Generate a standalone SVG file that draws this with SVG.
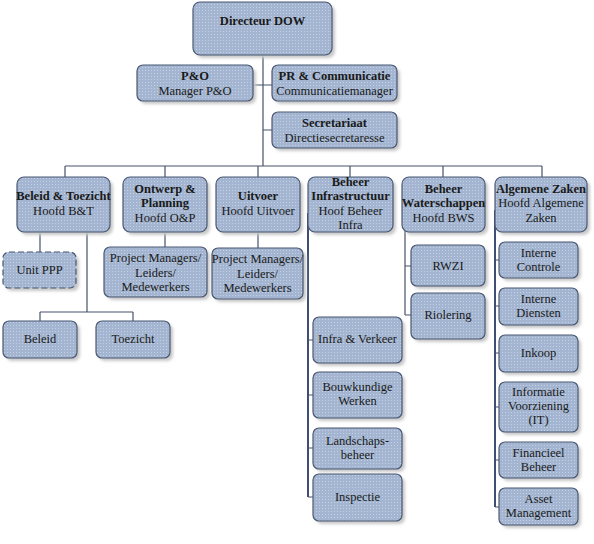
<svg xmlns="http://www.w3.org/2000/svg" width="594" height="544" viewBox="0 0 594 544">
<defs>
<pattern id="dots" width="3" height="3" patternUnits="userSpaceOnUse">
<rect width="3" height="3" fill="#a3b5d0"/>
<rect x="1" y="1" width="1" height="1" fill="#c4d1e4"/>
</pattern>
<filter id="sh" x="-10%" y="-10%" width="130%" height="140%">
<feGaussianBlur stdDeviation="1.5"/>
</filter>
</defs>
<style>
.box{fill:url(#dots);stroke:#4b5873;stroke-width:1.2}
.dash{fill:url(#dots);stroke:#4b5873;stroke-width:1.2;stroke-dasharray:6 3}
.shd{fill:#c8c8c8;filter:url(#sh)}
.c{fill:none;stroke:#46536b;stroke-width:1.2}
.cb{fill:none;stroke:#3f4f73;stroke-width:2}
text{font-family:"Liberation Serif","Times New Roman",serif;font-size:12.5px;fill:#1a1a1a;text-anchor:middle}
.b{font-weight:bold}
</style>
<rect width="594" height="544" fill="#ffffff"/>
<g id="connectors">
<path class="c" d="M263,55 V166 M253,85 H272 M263,130 H272"/>
<path class="c" d="M65,166 H542 M65,166 V177 M165,166 V177 M258,166 V177 M350,166 V177 M443,166 V177 M542,166 V177"/>
<path class="c" d="M40,232 V252 M87,232 V312 M40,312 H133 M40,312 V321 M133,312 V321"/>
<path class="c" d="M165,232 V247 M258,232 V248"/>
<path class="cb" d="M308,213 V497"/>
<path class="c" d="M308,340 H313 M308,395 H313 M308,448 H313 M308,497 H313"/>
<path class="c" d="M405,213 V315 M405,266 H411 M405,315 H411"/>
<path class="cb" d="M495,210 V507"/>
<path class="c" d="M495,260 H499 M495,306 H499 M495,353 H499 M495,407 H499 M495,460 H499 M495,507 H499"/>
</g>
<g id="n-directeur"><rect class="shd" x="196" y="5" width="139" height="53" rx="7"/><rect class="box" x="193" y="2" width="139" height="53" rx="7"/><text class="b" x="262.5" y="25">Directeur DOW</text></g>
<g id="n-po"><rect class="shd" x="140" y="68" width="116" height="36" rx="6"/><rect class="box" x="137" y="65" width="116" height="36" rx="6"/><text class="b" x="195" y="80">P&amp;O</text><text x="195" y="95">Manager P&amp;O</text></g>
<g id="n-pr"><rect class="shd" x="275" y="68" width="125" height="36" rx="6"/><rect class="box" x="272" y="65" width="125" height="36" rx="6"/><text class="b" x="334.5" y="80">PR &amp; Communicatie</text><text x="334.5" y="95">Communicatiemanager</text></g>
<g id="n-secretariaat"><rect class="shd" x="275" y="115" width="125" height="36" rx="6"/><rect class="box" x="272" y="112" width="125" height="36" rx="6"/><text class="b" x="334.5" y="127">Secretariaat</text><text x="334.5" y="142">Directiesecretaresse</text></g>
<g id="n-bt"><rect class="shd" x="20" y="180" width="93" height="55" rx="7"/><rect class="box" x="17" y="177" width="93" height="55" rx="7"/><text class="b" x="63.5" y="200">Beleid &amp; Toezicht</text><text x="63.5" y="215">Hoofd B&amp;T</text></g>
<g id="n-op"><rect class="shd" x="126" y="180" width="84" height="55" rx="7"/><rect class="box" x="123" y="177" width="84" height="55" rx="7"/><text class="b" x="165" y="193">Ontwerp &amp;</text><text class="b" x="165" y="207">Planning</text><text x="165" y="222">Hoofd O&amp;P</text></g>
<g id="n-uitvoer"><rect class="shd" x="219" y="180" width="84" height="55" rx="7"/><rect class="box" x="216" y="177" width="84" height="55" rx="7"/><text class="b" x="258" y="200">Uitvoer</text><text x="258" y="215">Hoofd Uitvoer</text></g>
<g id="n-bi"><rect class="shd" x="311" y="180" width="85" height="55" rx="7"/><rect class="box" x="308" y="177" width="85" height="55" rx="7"/><text class="b" x="350.5" y="186">Beheer</text><text class="b" x="350.5" y="200">Infrastructuur</text><text x="350.5" y="215">Hoof Beheer</text><text x="350.5" y="229">Infra</text></g>
<g id="n-bw"><rect class="shd" x="405" y="180" width="83" height="55" rx="7"/><rect class="box" x="402" y="177" width="83" height="55" rx="7"/><text class="b" x="443.5" y="193">Beheer</text><text class="b" x="443.5" y="207">Waterschappen</text><text x="443.5" y="222">Hoofd BWS</text></g>
<g id="n-az"><rect class="shd" x="498" y="180" width="92" height="55" rx="7"/><rect class="box" x="495" y="177" width="92" height="55" rx="7"/><text class="b" x="541" y="193">Algemene Zaken</text><text x="541" y="207">Hoofd Algemene</text><text x="541" y="222">Zaken</text></g>
<g id="n-ppp"><rect class="shd" x="6" y="255" width="73" height="36" rx="6"/><rect class="dash" x="3" y="252" width="73" height="36" rx="6"/><text x="39.5" y="274">Unit PPP</text></g>
<g id="n-beleid"><rect class="shd" x="6" y="324" width="74" height="37" rx="6"/><rect class="box" x="3" y="321" width="74" height="37" rx="6"/><text x="40" y="343">Beleid</text></g>
<g id="n-toezicht"><rect class="shd" x="99" y="324" width="74" height="37" rx="6"/><rect class="box" x="96" y="321" width="74" height="37" rx="6"/><text x="133" y="343">Toezicht</text></g>
<g id="n-pm1"><rect class="shd" x="107" y="250" width="103" height="50" rx="6"/><rect class="box" x="104" y="247" width="103" height="50" rx="6"/><text x="155.5" y="262">Project Managers/</text><text x="155.5" y="277">Leiders/</text><text x="155.5" y="291">Medewerkers</text></g>
<g id="n-pm2"><rect class="shd" x="215" y="251" width="91" height="51" rx="6"/><rect class="box" x="212" y="248" width="91" height="51" rx="6"/><text x="257.5" y="263">Project Managers/</text><text x="257.5" y="278">Leiders/</text><text x="257.5" y="292">Medewerkers</text></g>
<g id="n-infra"><rect class="shd" x="316" y="320" width="89" height="46" rx="6"/><rect class="box" x="313" y="317" width="89" height="46" rx="6"/><text x="357.5" y="343">Infra &amp; Verkeer</text></g>
<g id="n-bouw"><rect class="shd" x="316" y="375" width="89" height="46" rx="6"/><rect class="box" x="313" y="372" width="89" height="46" rx="6"/><text x="357.5" y="391">Bouwkundige</text><text x="357.5" y="405">Werken</text></g>
<g id="n-land"><rect class="shd" x="316" y="431" width="89" height="41" rx="6"/><rect class="box" x="313" y="428" width="89" height="41" rx="6"/><text x="357.5" y="445">Landschaps-</text><text x="357.5" y="459">beheer</text></g>
<g id="n-insp"><rect class="shd" x="316" y="477" width="89" height="47" rx="6"/><rect class="box" x="313" y="474" width="89" height="47" rx="6"/><text x="357.5" y="501">Inspectie</text></g>
<g id="n-rwzi"><rect class="shd" x="414" y="248" width="74" height="41" rx="6"/><rect class="box" x="411" y="245" width="74" height="41" rx="6"/><text x="448" y="270">RWZI</text></g>
<g id="n-riol"><rect class="shd" x="414" y="296" width="74" height="46" rx="6"/><rect class="box" x="411" y="293" width="74" height="46" rx="6"/><text x="448" y="319">Riolering</text></g>
<g id="n-ic"><rect class="shd" x="502" y="245" width="79" height="36" rx="6"/><rect class="box" x="499" y="242" width="79" height="36" rx="6"/><text x="538.5" y="257">Interne</text><text x="538.5" y="271">Controle</text></g>
<g id="n-id"><rect class="shd" x="502" y="291" width="79" height="37" rx="6"/><rect class="box" x="499" y="288" width="79" height="37" rx="6"/><text x="538.5" y="303">Interne</text><text x="538.5" y="317">Diensten</text></g>
<g id="n-inkoop"><rect class="shd" x="502" y="338" width="79" height="37" rx="6"/><rect class="box" x="499" y="335" width="79" height="37" rx="6"/><text x="538.5" y="357">Inkoop</text></g>
<g id="n-it"><rect class="shd" x="502" y="385" width="79" height="50" rx="6"/><rect class="box" x="499" y="382" width="79" height="50" rx="6"/><text x="538.5" y="396">Informatie</text><text x="538.5" y="410">Voorziening</text><text x="538.5" y="424">(IT)</text></g>
<g id="n-fin"><rect class="shd" x="502" y="445" width="79" height="36" rx="6"/><rect class="box" x="499" y="442" width="79" height="36" rx="6"/><text x="538.5" y="457">Financieel</text><text x="538.5" y="471">Beheer</text></g>
<g id="n-asset"><rect class="shd" x="502" y="491" width="79" height="37" rx="6"/><rect class="box" x="499" y="488" width="79" height="37" rx="6"/><text x="538.5" y="503">Asset</text><text x="538.5" y="517">Management</text></g>
</svg>
